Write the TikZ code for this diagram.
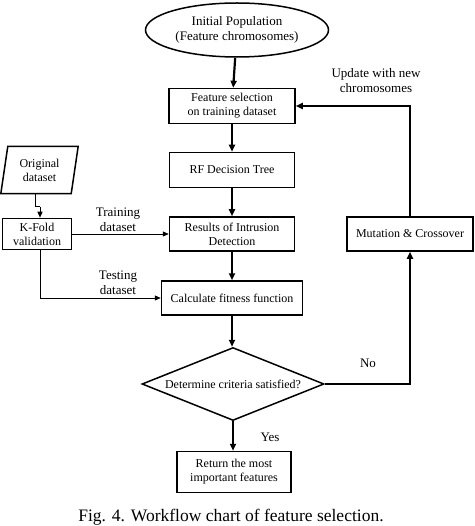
\documentclass[tikz,border=0pt]{standalone}
\usepackage{fontspec}
\setmainfont{Liberation Serif}
\usetikzlibrary{shapes.geometric,arrows.meta,positioning}
\begin{document}
\begin{tikzpicture}[x=1pt,y=-1pt,
  box/.style={draw,line width=1.5pt,rectangle,align=center,inner sep=0pt,font=\fontsize{12}{14}\selectfont},
  lab/.style={align=center,inner sep=0pt,font=\fontsize{13}{15}\selectfont},
  flow/.style={line width=2.2pt,-{Triangle[length=7pt,width=6pt]}},
  thin/.style={line width=1pt,-{Triangle[length=6pt,width=5pt]}},
  loop/.style={line width=2pt}
]
\useasboundingbox (0,0) rectangle (474,526);
\node[draw,ellipse,line width=1.5pt,minimum width=183pt,minimum height=54pt,align=center,inner sep=0pt,font=\fontsize{13}{15}\selectfont] (init) at (237,30) {Initial Population\\(Feature chromosomes)};
\node[box,minimum width=126pt,minimum height=35pt] (fs) at (232,106) {Feature selection\\on training dataset};
\node[box,minimum width=125pt,minimum height=35pt] (rf) at (232,170) {RF Decision Tree};
\node[box,minimum width=125pt,minimum height=34pt] (res) at (232,234) {Results of Intrusion\\Detection};
\node[box,minimum width=141pt,minimum height=34pt] (calc) at (232,298) {Calculate fitness function};
\node[draw,diamond,line width=1.5pt,minimum width=182pt,minimum height=73pt,inner sep=0pt] (dec) at (233,384) {};
\node[font=\fontsize{12}{14}\selectfont,inner sep=0pt] (dect) at (dec.center) {Determine criteria satisfied?};
\node[box,minimum width=114pt,minimum height=41pt] (ret) at (234,472) {Return the most\\important features};
\node[box,minimum width=126pt,minimum height=34pt] (mut) at (410,234) {Mutation \& Crossover};
\node[box,minimum width=69pt,minimum height=31pt] (kf) at (37,234) {K-Fold\\validation};
\node[minimum width=70pt,minimum height=47pt,inner sep=0pt,align=center,font=\fontsize{12}{14}\selectfont] (orig) at (39.5,170) {Original\\dataset};
\draw[line width=1.5pt,line join=miter] ([xshift=3.5pt]orig.north west) -- ([xshift=3.5pt]orig.north east) -- ([xshift=-3.5pt]orig.south east) -- ([xshift=-3.5pt]orig.south west) -- cycle;
% main flow
\draw[flow] (init) -- (fs);
\draw[flow] (fs) -- (rf);
\draw[flow] (rf) -- (res);
\draw[flow] (res) -- (calc);
\draw[flow] (calc.south) -- (calc.south|-dec.north);
\draw[flow] (dec.south) -- (dec.south|-ret.north);
% loop
\coordinate (c1) at (mut.south|-dec.east);
\draw[loop,-{Triangle[length=7pt,width=6pt]}] (dec.east) -- (c1) -- (mut.south);
\coordinate (c2) at (mut.north|-fs.east);
\draw[loop,-{Triangle[length=7pt,width=6pt]}] (mut.north) -- (c2) -- (fs.east);
% data
\coordinate (o1) at (35,207);
\coordinate (o2) at (40,207);
\draw[line width=1pt] (orig.south-|o1) -- (o1) -- (o2);
\draw[thin] (o2) -- (o2|-kf.north);
\draw[thin] (kf.east) -- (res.west|-kf.east);
\coordinate (t1) at (40,298);
\draw[thin] (kf.south-|t1) -- (t1) -- (calc.west);
% labels
\node[lab] (ltr) at (118,220) {Training\\dataset};
\node[lab] (lte) at (118,283) {Testing\\dataset};
\node[lab] (lup) at (376,81) {Update with new\\chromosomes};
\node[lab] (lno) at (368,363) {No};
\node[lab] (lyes) at (270,437) {Yes};
\node[font=\fontsize{17.5}{20}\selectfont,inner sep=0pt] (cap) at (231,517) {Fig. 4. Workflow chart of feature selection.};
\end{tikzpicture}
\end{document}
